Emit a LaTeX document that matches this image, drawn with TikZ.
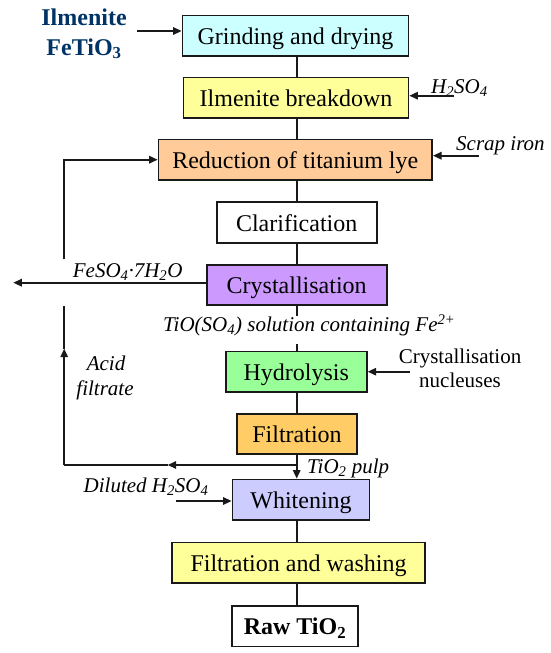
\documentclass[tikz,border=0pt]{standalone}
\usepackage{fontspec}
\setmainfont{Liberation Serif}
\usetikzlibrary{arrows.meta}
\definecolor{cGrind}{HTML}{CCFFFF}
\definecolor{cYel}{HTML}{FFFF99}
\definecolor{cRed}{HTML}{FFCC99}
\definecolor{cCry}{HTML}{CC99FF}
\definecolor{cHyd}{HTML}{99FF99}
\definecolor{cFil}{HTML}{FFCC66}
\definecolor{cWhi}{HTML}{CCCCFF}
\definecolor{cNavy}{HTML}{003366}
\begin{document}
\begin{tikzpicture}[x=1pt,y=-1pt,
  box/.style={draw=black!90, line width=1.8pt, minimum height=40.5pt, inner sep=0pt,
    text height=22pt, text depth=5pt, font=\fontsize{24}{28}\selectfont},
  lbl/.style={font=\fontsize{21}{25}\selectfont\itshape, inner sep=0pt},
  ulbl/.style={font=\fontsize{21}{25}\selectfont, inner sep=0pt},
  con/.style={line width=1.6pt, draw=black!90},
  arr/.style={con, -{Triangle[length=8.5pt,width=7.5pt]}},
]
\useasboundingbox (0,0) rectangle (550,653);
% boxes
\node[box, fill=cGrind, minimum width=226pt] (g) at (295.5,35.8) {Grinding and drying};
\node[box, fill=cYel, minimum width=225pt] (ib) at (296,97.8) {Ilmenite breakdown};
\node[box, fill=cRed, minimum width=273.6pt] (red) at (295.3,159.7) {Reduction of titanium lye};
\node[box, fill=white, minimum width=160pt] (cl) at (296.7,222.5) {Clarification};
\node[box, fill=cCry, minimum width=180pt] (cr) at (296.7,285) {Crystallisation};
\node[box, fill=cHyd, minimum width=141pt] (hy) at (296.3,371.8) {Hydrolysis};
\node[box, fill=cFil, minimum width=120pt] (fi) at (297,434) {Filtration};
\node[box, fill=cWhi, minimum width=137pt] (wh) at (301,499.7) {Whitening};
\node[box, fill=cYel, minimum width=253pt] (fw) at (298.5,562.8) {Filtration and washing};
\node[box, fill=white, minimum width=125.6pt, font=\fontsize{24}{28}\selectfont\bfseries] (raw) at (295,626.3) {Raw TiO\textsubscript{2}};
% main line
\coordinate (m) at (296.7,0);
\draw[con] (g.south -| m) -- (ib.north -| m);
\draw[con] (ib.south -| m) -- (red.north -| m);
\draw[con] (red.south -| m) -- (cl.north -| m);
\draw[con] (cl.south -| m) -- (cr.north -| m);
\draw[con] (cr.south -| m) -- (hy.north -| m);
\draw[con] (hy.south -| m) -- (fi.north -| m);
\draw[arr] (fi.south -| m) -- (wh.north -| m);
\draw[con] (wh.south -| m) -- (fw.north -| m);
\draw[con] (fw.south -| m) -- (raw.north -| m);
% labels
\node[anchor=base, inner sep=0pt, text=cNavy, font=\fontsize{24}{28}\selectfont\bfseries] (ilm1) at (84,25) {Ilmenite};
\node[anchor=base, inner sep=0pt, text=cNavy, font=\fontsize{24}{28}\selectfont\bfseries] (ilm2) at (84,55) {FeTiO\textsubscript{3}};
\coordinate (ia) at (137,31);
\draw[arr] (ia) -- (ia -| g.west);
\node[lbl, anchor=base west] (h2) at (431,93) {H\textsubscript{2}SO\textsubscript{4}};
\coordinate (ha) at (454,95.7);
\draw[arr] (ha) -- (ha -| ib.east);
\node[lbl, anchor=base west] (si) at (456,150) {Scrap iron};
\coordinate (sa) at (479,155.7);
\draw[arr] (sa) -- (sa -| red.east);
\node[lbl, anchor=base west] (fes) at (72.7,277.7) {FeSO\textsubscript{4}·7H\textsubscript{2}O};
\coordinate (fe) at (13.3,282.7);
\draw[arr] (fe -| cr.west) -- (fe);
\node[lbl, anchor=base west, fill=white, inner sep=0pt, text height=16pt, text depth=12pt] (tio) at (163,331.7) {TiO(SO\textsubscript{4}) solution containing Fe\textsuperscript{2+}};
\node[ulbl, anchor=base] (cn1) at (460,363.3) {Crystallisation};
\node[ulbl, anchor=base] (cn2) at (460,387.3) {nucleuses};
\coordinate (na) at (410,371.7);
\draw[arr] (na) -- (na -| hy.east);
\node[lbl, anchor=base] (af1) at (106,370.7) {Acid};
\node[lbl, anchor=base] (af2) at (105,395.7) {filtrate};
\node[lbl, anchor=base west] (pulp) at (307,473.3) {TiO\textsubscript{2} pulp};
\node[lbl, anchor=base west] (dil) at (83.5,492.3) {Diluted H\textsubscript{2}SO\textsubscript{4}};
\coordinate (da) at (176,501);
\draw[arr] (da) -- (da -| wh.west);
% loop
\coordinate (j) at (296.7,465);
\coordinate (aL) at (167.7,465);
\coordinate (cBL) at (64.2,465);
\coordinate (aU) at (64.2,348.7);
\coordinate (gL) at (64.2,305.7);
\coordinate (gU) at (64.2,259.3);
\draw[arr] (j) -- (aL);
\draw[con] (aL) -- (cBL);
\draw[arr] (cBL) -- (aU);
\draw[con] (aU) -- (gL);
\draw[arr] (gU) -- (gU |- red.west) -- (red.west);
\end{tikzpicture}
\end{document}
